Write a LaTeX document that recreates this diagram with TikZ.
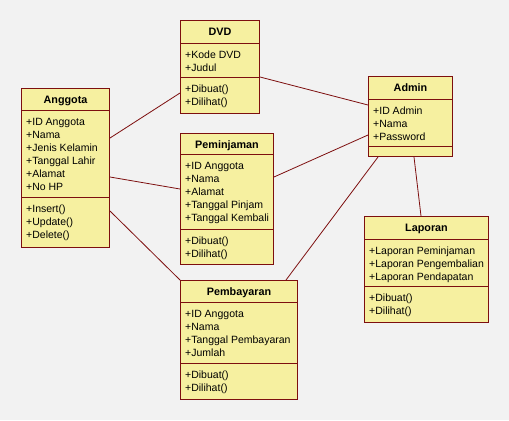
\documentclass[tikz,border=0pt]{standalone}
\usepackage{fontspec}
\setmainfont{Liberation Sans}
\usetikzlibrary{calc}
\definecolor{bg}{RGB}{242,242,242}
\definecolor{clsfill}{RGB}{246,240,160}
\definecolor{clsline}{RGB}{125,15,15}
\newcommand\rowl[1]{\hbox{#1}}
\tikzset{
  x=1bp, y=-1bp,
  cls/.style={draw=clsline, fill=clsfill, line width=1bp, inner sep=0, anchor=north west},
  div/.style={draw=clsline, line width=1bp},
  link/.style={draw=clsline, line width=0.8bp},
  ttl/.style={font=\fontsize{10.8bp}{13bp}\selectfont\bfseries, anchor=base, inner sep=0},
  lst/.style={font=\fontsize{10.5bp}{13bp}\selectfont, anchor=base west, inner sep=0},
}
\newcommand\umlclass[9]{%
  \node[cls, minimum width=#3bp, minimum height=#4bp] (#1) at #2 {};
  \draw[div] ($(#1.north west)+(0,#5)$) -- ($(#1.north east)+(0,#5)$);
  \draw[div] ($(#1.north west)+(0,#6)$) -- ($(#1.north east)+(0,#6)$);
  \node[ttl] (#1-t) at ($(#1.north)+(0,15)$) {#7};
  \node[lst] (#1-a) at ($(#1.north west)+(5,#5+15)$) {\vtop{#8}};
  \node[lst] (#1-o) at ($(#1.north west)+(5,#6+15)$) {\vtop{#9}};
}
\begin{document}
\begin{tikzpicture}
\useasboundingbox (0,0) rectangle (509,420);
\fill[bg] (0,0) rectangle (509,420);

\umlclass{anggota}{(21,88)}{88}{159}{22}{109}{Anggota}
  {\rowl{+ID Anggota}\rowl{+Nama}\rowl{+Jenis Kelamin}\rowl{+Tanggal Lahir}\rowl{+Alamat}\rowl{+No HP}}
  {\rowl{+Insert()}\rowl{+Update()}\rowl{+Delete()}}
\umlclass{dvd}{(180,20)}{79}{93}{23}{57}{DVD}
  {\rowl{+Kode DVD}\rowl{+Judul}}
  {\rowl{+Dibuat()}\rowl{+Dilihat()}}
\umlclass{peminjaman}{(180,133)}{93}{131}{21}{96}{Peminjaman}
  {\rowl{+ID Anggota}\rowl{+Nama}\rowl{+Alamat}\rowl{+Tanggal Pinjam}\rowl{+Tanggal Kembali}}
  {\rowl{+Dibuat()}\rowl{+Dilihat()}}
\umlclass{pembayaran}{(180,280)}{117}{119}{22}{83}{Pembayaran}
  {\rowl{+ID Anggota}\rowl{+Nama}\rowl{+Tanggal Pembayaran}\rowl{+Jumlah}}
  {\rowl{+Dibuat()}\rowl{+Dilihat()}}
\umlclass{admin}{(368,76)}{84}{80}{23}{70}{Admin}
  {\rowl{+ID Admin}\rowl{+Nama}\rowl{+Password}}
  {}
\umlclass{laporan}{(364,216)}{124}{106}{23}{70}{Laporan}
  {\rowl{+Laporan Peminjaman}\rowl{+Laporan Pengembalian}\rowl{+Laporan Pendapatan}}
  {\rowl{+Dibuat()}\rowl{+Dilihat()}}

\draw[link] ($(anggota.north east)+(0,50)$) -- ($(dvd.north west)+(0,73)$);
\draw[link] ($(anggota.north east)+(0,89)$) -- ($(peminjaman.north west)+(0,56)$);
\draw[link] ($(anggota.north east)+(0,123)$) -- (pembayaran.north west);
\draw[link] ($(dvd.north east)+(0,57)$) -- ($(admin.north west)+(0,29)$);
\draw[link] ($(peminjaman.north east)+(0,44)$) -- ($(admin.north west)+(0,59)$);
\draw[link] ($(pembayaran.north west)+(106,0)$) -- ($(admin.south west)+(10,0)$);
\draw[link] ($(admin.south west)+(46,0)$) -- ($(laporan.north west)+(57,0)$);
\end{tikzpicture}
\end{document}
